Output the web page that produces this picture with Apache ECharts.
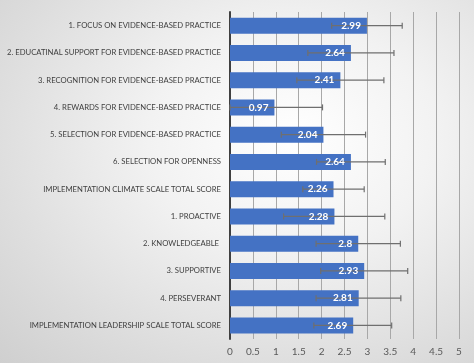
<!DOCTYPE html>
<html>
<head>
<meta charset="utf-8">
<script src="https://cdn.jsdelivr.net/npm/echarts@6/dist/echarts.min.js"></script>
<style>
  html, body { margin: 0; padding: 0; }
  #chart {
    width: 474px; height: 363px;
    background: radial-gradient(ellipse at 62% 38%, #ffffff 0%, #f2f2f2 35%, #dcdcdc 75%, #cfcfcf 100%);
  }
</style>
</head>
<body>
<div id="chart"></div>
<script>
const categories = [
  '1. FOCUS ON EVIDENCE-BASED PRACTICE',
  '2. EDUCATINAL SUPPORT FOR EVIDENCE-BASED PRACTICE',
  '3. RECOGNITION FOR EVIDENCE-BASED PRACTICE',
  '4. REWARDS FOR EVIDENCE-BASED PRACTICE',
  '5. SELECTION FOR EVIDENCE-BASED PRACTICE',
  '6. SELECTION FOR OPENNESS',
  'IMPLEMENTATION CLIMATE SCALE TOTAL SCORE',
  '1. PROACTIVE',
  '2. KNOWLEDGEABLE ',
  '3. SUPPORTIVE',
  '4. PERSEVERANT',
  'IMPLEMENTATION LEADERSHIP SCALE TOTAL SCORE'
];
const means = [2.99, 2.64, 2.41, 0.97, 2.04, 2.64, 2.26, 2.28, 2.8, 2.93, 2.81, 2.69];
const errLow = [2.22, 1.70, 1.46, 0, 1.12, 1.89, 1.59, 1.17, 1.88, 1.98, 1.88, 1.83];
const errHigh = [3.76, 3.58, 3.36, 2.02, 2.96, 3.39, 2.93, 3.38, 3.72, 3.88, 3.73, 3.53];
const xTicks = [0, 0.5, 1, 1.5, 2, 2.5, 3, 3.5, 4, 4.5, 5];

const chart = echarts.init(document.getElementById('chart'));
chart.setOption({
  animation: false,
  grid: { left: 230, right: 15, top: 12, bottom: 24, containLabel: false, outerBoundsMode: 'none' },
  xAxis: {
    type: 'value',
    min: xTicks[0],
    max: xTicks[xTicks.length - 1],
    interval: 0.5,
    axisLine: { show: false },
    axisTick: { show: false },
    axisLabel: { color: '#595959', fontSize: 10, fontFamily: 'Lato', margin: 8 },
    splitLine: { lineStyle: { color: '#a8a8a8', width: 1 } }
  },
  yAxis: {
    type: 'category',
    data: categories,
    inverse: true,
    axisLine: { show: true, lineStyle: { color: '#404040', width: 2 } },
    axisTick: { show: false },
    axisLabel: { color: '#404040', fontSize: 7.7, fontFamily: 'Lato', margin: 9 }
  },
  series: [
    {
      type: 'bar',
      data: means,
      barWidth: 16,
      itemStyle: { color: '#4472C4' },
      z: 2
    },
    {
      type: 'custom',
      data: means.map((m, i) => [i, errLow[i], errHigh[i]]),
      encode: { x: [1, 2], y: 0 },
      renderItem: function (params, api) {
        const idx = api.value(0);
        const p1 = api.coord([api.value(1), idx]);
        const p2 = api.coord([api.value(2), idx]);
        const cap = 3;
        const style = { stroke: '#6f6f6f', lineWidth: 1.2 };
        return {
          type: 'group',
          children: [
            { type: 'line', shape: { x1: p1[0], y1: p1[1], x2: p2[0], y2: p2[1] }, style: style },
            { type: 'line', shape: { x1: p1[0], y1: p1[1] - cap, x2: p1[0], y2: p1[1] + cap }, style: style },
            { type: 'line', shape: { x1: p2[0], y1: p2[1] - cap, x2: p2[0], y2: p2[1] + cap }, style: style }
          ]
        };
      },
      z: 3
    },
    {
      // label layer above the error bars
      type: 'bar',
      data: means,
      barWidth: 16,
      barGap: '-100%',
      itemStyle: { color: 'transparent' },
      label: {
        show: true,
        position: 'insideRight',
        distance: 6,
        color: '#ffffff',
        fontWeight: 'bold',
        fontSize: 10,
        fontFamily: 'Lato'
      },
      z: 4
    }
  ]
});
</script>
</body>
</html>
